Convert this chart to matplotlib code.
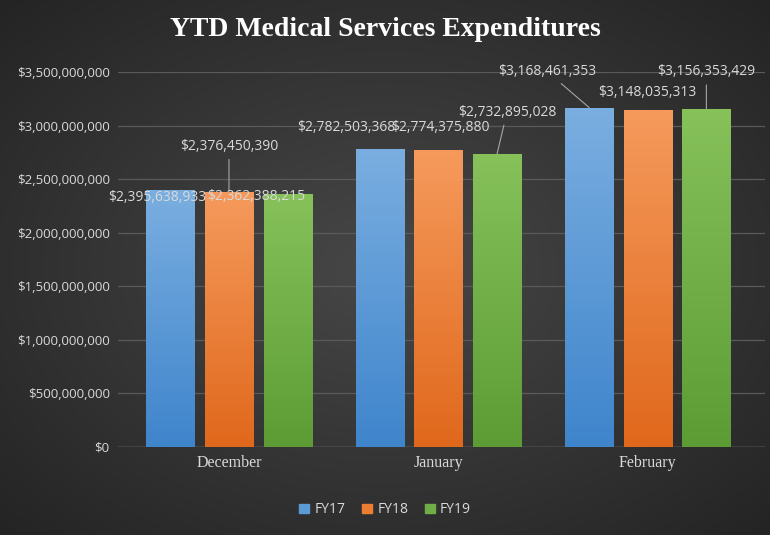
import matplotlib
matplotlib.use("Agg")
import matplotlib.pyplot as plt
import numpy as np
from matplotlib.colors import LinearSegmentedColormap

categories = ["December", "January", "February"]
series = ["FY17", "FY18", "FY19"]
values = {
    "FY17": [2395638933, 2782503368, 3168461353],
    "FY18": [2376450390, 2774375880, 3148035313],
    "FY19": [2362388215, 2732895028, 3156353429],
}
yticks = [0, 500e6, 1000e6, 1500e6, 2000e6, 2500e6, 3000e6, 3500e6]

colors = {"FY17": ("#7aaee0", "#3f85cc"), "FY18": ("#f59a5c", "#e0681c"), "FY19": ("#86c15a", "#5d9c35")}
legend_colors = {"FY17": "#5b9bd5", "FY18": "#ed7d31", "FY19": "#70ad47"}
# label offsets in pixels (dx, dy) from bar top center
offsets = {
    "FY17": [(-13, -7), (-33, 21), (-42, 36)],
    "FY18": [(0, 46), (2, 22), (0, 17)],
    "FY19": [(-31, -3), (10, 42), (0, 37)],
}

fig = plt.figure(figsize=(7.7, 5.35), dpi=100)
# background radial gradient
bg = fig.add_axes([0, 0, 1, 1], zorder=-10)
yy, xx = np.mgrid[-1:1:300j, -1:1:400j]
r = np.sqrt(xx**2 + yy**2)
bg.imshow(-r, cmap=LinearSegmentedColormap.from_list("g", ["#242424", "#474747"]), aspect="auto", extent=[0, 1, 0, 1])
bg.axis("off")

ax = fig.add_axes([118/770, 88/535, 647/770, 375/535])
ax.set_facecolor("none")
ax.set_xlim(-0.53, 2.56)
ax.set_ylim(0, 3.5e9)
w = 0.23
step = 0.28
x = np.arange(len(categories))
for i, s in enumerate(series):
    top, bot = colors[s]
    cmap = LinearSegmentedColormap.from_list(s, [bot, top])
    bars = ax.bar(x + (i - 1) * step, values[s], width=w, color="none", zorder=3)
    for j, b in enumerate(bars):
        im = ax.imshow(np.linspace(1, 0, 100).reshape(-1, 1) * np.ones((1, 2)), cmap=cmap,
                       extent=[b.get_x(), b.get_x() + w, 0, values[s][j]], aspect="auto", zorder=3)
        im.set_clip_path(b)
        dx, dy = offsets[s][j]
        ap = dict(arrowstyle="-", color="#a6a6a6", lw=0.8, shrinkA=2, shrinkB=0) if dy > 30 else None
        ax.annotate(f"${values[s][j]:,}", (b.get_x() + w / 2, values[s][j]), xytext=(dx, dy),
                    textcoords="offset pixels", ha="center", va="center", color="#d9d9d9",
                    fontsize=10, family="Open Sans", arrowprops=ap, zorder=5)
ax.set_xlim(-0.53, 2.56)
ax.set_ylim(0, 3.5e9)
ax.set_yticks(yticks)
ax.set_yticklabels([f"${int(v):,}" for v in yticks], color="#d9d9d9", fontsize=9.5, family="Open Sans")
ax.set_xticks(x)
ax.set_xticklabels(categories, color="#d9d9d9", fontsize=11.5, family="Liberation Serif")
ax.tick_params(length=0, pad=6)
ax.grid(axis="y", color="#5a5a5a", lw=0.9, zorder=0)
for sp in ax.spines.values():
    sp.set_visible(False)
ax.axhline(0, color="#7f7f7f", lw=1, zorder=2)

fig.text(0.5, 0.945, "YTD Medical Services Expenditures", ha="center", va="center",
         color="white", fontsize=20, fontweight="bold", family="Liberation Serif")
handles = [plt.Rectangle((0, 0), 1, 1, color=legend_colors[s]) for s in series]
fig.legend(handles, series, loc="center", bbox_to_anchor=(0.5, 0.047), ncol=3, frameon=False,
           labelcolor="#d9d9d9", fontsize=10, handlelength=0.7, handleheight=0.7, columnspacing=1.2,
           handletextpad=0.4, prop={"family": "Open Sans", "size": 10})
fig.savefig("out.png", dpi=100)
